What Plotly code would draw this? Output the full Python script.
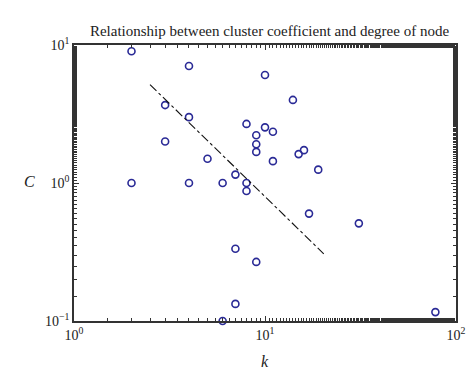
import plotly.graph_objects as go

# Data (degree k, cluster coefficient C)
k_vals = [2, 2, 3, 3, 4, 4, 4, 5, 6, 6, 7, 7, 7, 8, 8, 8, 9, 9, 9, 9,
          10, 10, 11, 11, 14, 15, 16, 17, 19, 31, 78]
c_vals = [9.0, 1.0, 3.67, 2.0, 7.05, 3.0, 1.0, 1.5, 1.0, 0.1, 1.15, 0.334, 0.133,
          2.68, 1.0, 0.875, 2.22, 1.91, 1.68, 0.268,
          6.06, 2.53, 2.35, 1.44, 4.0, 1.62, 1.73, 0.6, 1.25, 0.51, 0.116]

# Fitted dash-dot line endpoints
fit_k = [2.5, 20.3]
fit_c = [5.16, 0.307]

x_tickvals = [1, 10, 100]
x_ticktext = ["10<sup>0</sup>", "10<sup>1</sup>", "10<sup>2</sup>"]
y_tickvals = [0.1, 1, 10]
y_ticktext = ["10<sup>−1</sup>", "10<sup>0</sup>", "10<sup>1</sup>"]

title_text = "Relationship between cluster coefficient and degree of node"
x_label = "k"
y_label = "C"

FONT = "Liberation Serif, DejaVu Serif, serif"
MARK = "#2a2a96"
AX = "#333333"

fig = go.Figure()
fig.add_trace(go.Scatter(
    x=k_vals, y=c_vals, mode="markers",
    marker=dict(symbol="circle-open", size=7, color=MARK, line=dict(width=1.6, color=MARK)),
    showlegend=False, cliponaxis=False))
fig.add_trace(go.Scatter(
    x=fit_k, y=fit_c, mode="lines",
    line=dict(color="#111111", width=1.1, dash="dashdot"),
    showlegend=False))

axis_common = dict(
    type="log", showgrid=False, zeroline=False,
    showline=True, linecolor=AX, linewidth=1.5, mirror="ticks",
    ticks="inside", ticklen=5, tickwidth=1, tickcolor=AX,
    tickfont=dict(family=FONT, size=14, color="#222222"),
    minor=dict(ticks="inside", ticklen=3, tickwidth=1, tickcolor=AX),
)

fig.update_xaxes(range=[0, 2], tickvals=x_tickvals, ticktext=x_ticktext, **axis_common)
fig.update_yaxes(range=[-1, 1], tickvals=y_tickvals, ticktext=y_ticktext, **axis_common)

fig.update_layout(
    width=474, height=379,
    margin=dict(l=66, r=26, t=37, b=66),
    paper_bgcolor="white", plot_bgcolor="white",
    font=dict(family=FONT, color="#222222"),
    title=dict(text=title_text, x=261.5 / 474, xanchor="center", y=1 - 23 / 379, yanchor="middle",
               font=dict(family=FONT, size=15, color="#222222")),
    annotations=[
        dict(text=f"<i>{x_label}</i>", x=0.5, xref="paper", y=-(353 - 313) / (313 - 37),
             yref="paper", yanchor="middle", showarrow=False,
             font=dict(family=FONT, size=16, color="#222222")),
        dict(text=f"<i>{y_label}</i>", x=-(66 - 21) / (448 - 66), xref="paper", xanchor="center",
             y=(313 - 173) / (313 - 37), yref="paper", yanchor="middle", showarrow=False,
             font=dict(family=FONT, size=16, color="#222222")),
    ],
)

fig.write_html("out.html")
